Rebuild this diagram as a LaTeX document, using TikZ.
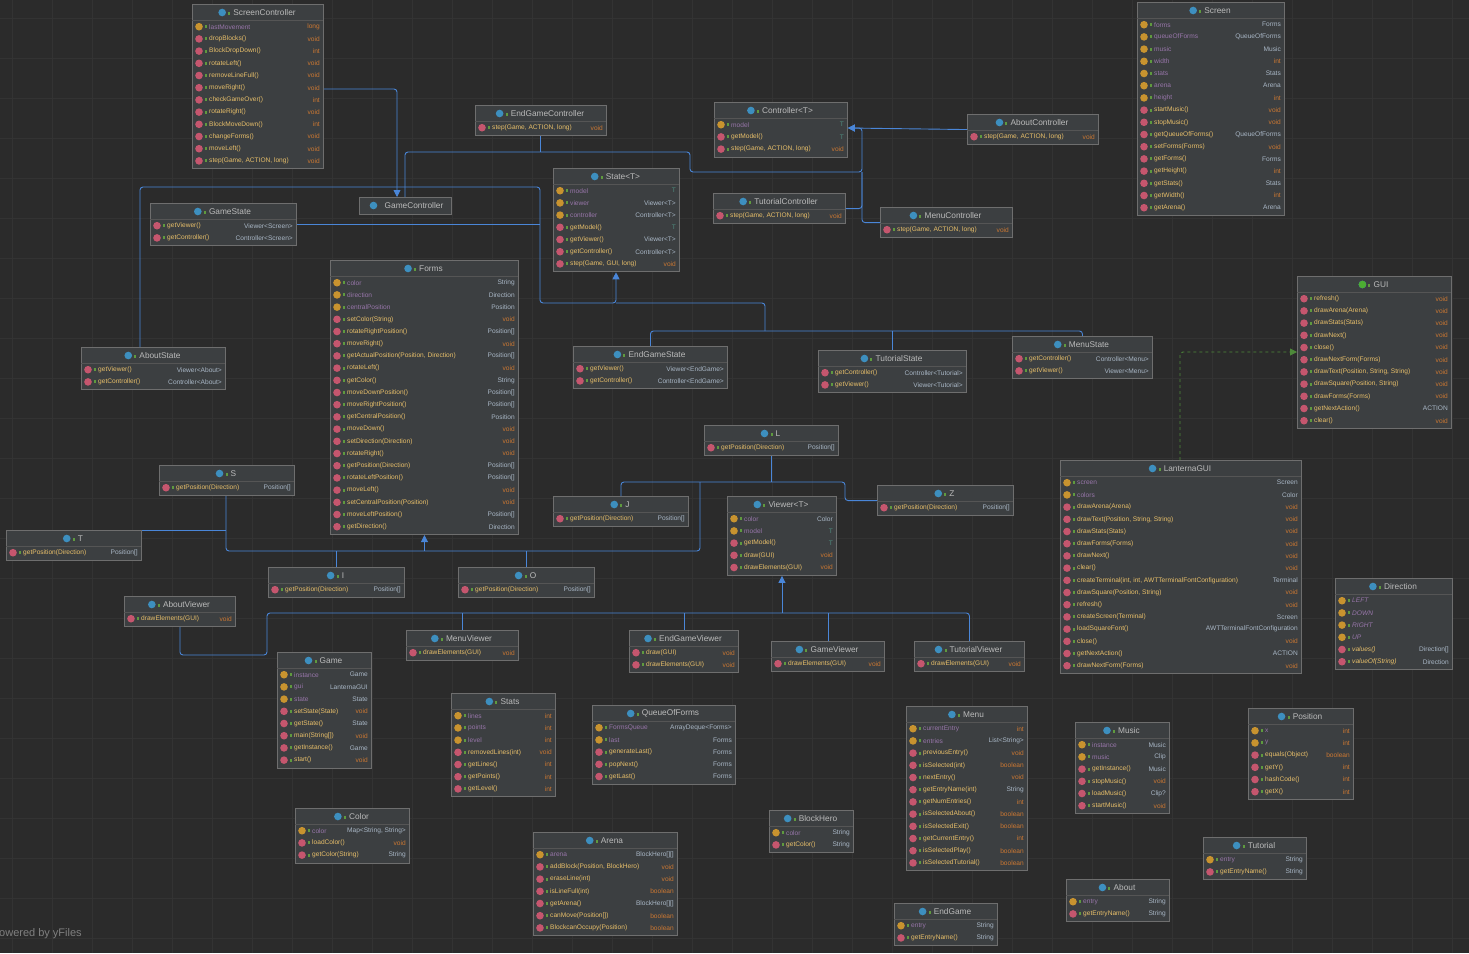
\documentclass[tikz,border=0pt]{standalone}
\usepackage{fontspec}
\setmainfont{Liberation Sans}
\usetikzlibrary{arrows.meta,calc}
\definecolor{bg}{HTML}{2B2B2B}
\definecolor{gridc}{HTML}{333333}
\definecolor{boxf}{HTML}{3C3F41}
\definecolor{boxd}{HTML}{6E6E6E}
\definecolor{sepc}{HTML}{555555}
\definecolor{titc}{HTML}{BBBBBB}
\definecolor{clsic}{HTML}{3D8FBF}
\definecolor{iconf}{HTML}{C8932F}
\definecolor{iconm}{HTML}{C5566E}
\definecolor{icona}{HTML}{C5566E}
\definecolor{namef}{HTML}{9876AA}
\definecolor{namem}{HTML}{E8BF6A}
\definecolor{namea}{HTML}{E8BF6A}
\definecolor{typec}{HTML}{A9B7C6}
\definecolor{kwc}{HTML}{CC7832}
\definecolor{tealc}{HTML}{4F8B7E}
\definecolor{visc}{HTML}{5F9A3F}
\definecolor{linec}{HTML}{4A86D8}
\definecolor{dashc}{HTML}{4E8A3A}
\newcommand\kv{\textcolor{kwc}{void}}
\newcommand\ki{\textcolor{kwc}{int}}
\newcommand\kb{\textcolor{kwc}{boolean}}
\newcommand\kl{\textcolor{kwc}{long}}
\newcommand\kT{\textcolor{tealc}{T}}
\tikzset{
  box/.style={draw=boxd,fill=boxf,line width=0.9pt,inner sep=0pt,rectangle},
  ttl/.style={text=titc,font=\fontsize{8.3}{10}\selectfont,inner sep=0pt},
  rowname/.style={anchor=west,inner sep=0pt,font=\fontsize{6.6}{8}\selectfont},
  rowtype/.style={anchor=east,inner sep=0pt,text=typec,font=\fontsize{6.6}{8}\selectfont},
  ln/.style={draw=linec,line width=0.9pt,rounded corners=3pt},
  inh/.style={ln,-{Triangle[width=7pt,length=7pt]}},
}
\newcommand\cls[6]{%
  \foreach \dd [count=\ii] in {#6} {\xdef\nr{\ii}}%
  \pgfmathsetmacro\hh{16+\nr*12.2+2}%
  \node[box,minimum width={(#4-#2)*1pt},minimum height={\hh*1pt},anchor=north west] (#1) at (#2,#3) {};
  \draw[sepc,line width=0.7pt] (#2,#3+16) -- (#4,#3+16);
  \node[ttl] (#1-t) at ({(#2+#4)/2+7},#3+8.5) {#5};
  \fill[clsic] ($(#1-t.west)+(-11,0)$) circle (3.8);
  \fill[visc] ($(#1-t.west)+(-5,-1)$) rectangle +(2,3);
  \foreach \rk/\rn/\rt [count=\ii] in {#6} {%
    \pgfmathsetmacro\yy{#3+16+(\ii-0.45)*12.2}
    \fill[icon\rk] (#2+7,\yy) circle (3.8);
    \fill[visc] (#2+12.5,\yy-1.5) rectangle +(2,3);
    \node[rowname,text=name\rk] at (#2+17,\yy) {\rn};
    \node[rowtype] at (#4-3,\yy) {\rt};
  }%
}
\begin{document}
\begin{tikzpicture}[x=1pt,y=-1pt]
\useasboundingbox (0,0) rectangle (1469,953);
\fill[bg] (0,0) rectangle (1469,953);
\foreach \gx in {0,40,...,1460} \draw[gridc,line width=0.6pt] (\gx+12,0) -- (\gx+12,953);
\foreach \gy in {0,40,...,950} \draw[gridc,line width=0.6pt] (0,\gy+18) -- (1469,\gy+18);

\cls{SC}{192}{4}{323}{ScreenController}{f/lastMovement/\kl, m/dropBlocks()/\kv, m/BlockDropDown()/\ki, m/rotateLeft()/\kv, m/removeLineFull()/\kv, m/moveRight()/\kv, m/checkGameOver()/\ki, m/rotateRight()/\kv, m/BlockMoveDown()/\ki, m/changeForms()/\kv, m/moveLeft()/\kv, m/{step(Game, ACTION, long)}/\kv}
\cls{EGC}{475}{105}{606}{EndGameController}{m/{step(Game, ACTION, long)}/\kv}
\cls{Ctrl}{714}{102}{847}{Controller<T>}{f/model/\kT, m/getModel()/\kT, m/{step(Game, ACTION, long)}/\kv}
\cls{AC}{967}{114}{1098}{AboutController}{m/{step(Game, ACTION, long)}/\kv}
\cls{Scr}{1137}{2}{1284}{Screen}{f/forms/Forms, f/queueOfForms/QueueOfForms, f/music/Music, f/width/\ki, f/stats/Stats, f/arena/Arena, f/height/\ki, m/startMusic()/\kv, m/stopMusic()/\kv, m/getQueueOfForms()/QueueOfForms, m/setForms(Forms)/\kv, m/getForms()/Forms, m/getHeight()/\ki, m/getStats()/Stats, m/getWidth()/\ki, m/getArena()/Arena}
\node[box,minimum width=92pt,minimum height=17pt,anchor=north west] (GC) at (359,197) {};
\node[ttl] (GC-t) at (414,205.5) {GameController};
\fill[clsic] ($(GC-t.west)+(-11,0)$) circle (3.8);
\cls{State}{553}{168}{679}{State<T>}{f/model/\kT, f/viewer/Viewer<T>, f/controller/Controller<T>, m/getModel()/\kT, m/getViewer()/Viewer<T>, m/getController()/Controller<T>, m/{step(Game, GUI, long)}/\kv}
\cls{TC}{713}{193}{845}{TutorialController}{m/{step(Game, ACTION, long)}/\kv}
\cls{MC}{880}{207}{1012}{MenuController}{m/{step(Game, ACTION, long)}/\kv}
\cls{GS}{150}{203}{296}{GameState}{m/getViewer()/Viewer<Screen>, m/getController()/Controller<Screen>}
\cls{Forms}{330}{260}{518}{Forms}{f/color/String, f/direction/Direction, f/centralPosition/Position, m/setColor(String)/\kv, m/rotateRightPosition()/Position[], m/moveRight()/\kv, m/{getActualPosition(Position, Direction)}/Position[], m/rotateLeft()/\kv, m/getColor()/String, m/moveDownPosition()/Position[], m/moveRightPosition()/Position[], m/getCentralPosition()/Position, m/moveDown()/\kv, m/setDirection(Direction)/\kv, m/rotateRight()/\kv, m/getPosition(Direction)/Position[], m/rotateLeftPosition()/Position[], m/moveLeft()/\kv, m/setCentralPosition(Position)/\kv, m/moveLeftPosition()/Position[], m/getDirection()/Direction}
\cls{GUI}{1297}{276}{1451}{GUI}{a/refresh()/\kv, a/drawArena(Arena)/\kv, a/drawStats(Stats)/\kv, a/drawNext()/\kv, a/close()/\kv, a/drawNextForm(Forms)/\kv, a/{drawText(Position, String, String)}/\kv, a/{drawSquare(Position, String)}/\kv, a/drawForms(Forms)/\kv, a/getNextAction()/ACTION, a/clear()/\kv}
\fill[visc!80!green] ($(GUI-t.west)+(-11,0)$) circle (3.8);
\cls{AS}{81}{347}{225}{AboutState}{m/getViewer()/Viewer<About>, m/getController()/Controller<About>}
\cls{EGS}{573}{346}{727}{EndGameState}{m/getViewer()/Viewer<EndGame>, m/getController()/Controller<EndGame>}
\cls{TS}{818}{350}{966}{TutorialState}{m/getController()/Controller<Tutorial>, m/getViewer()/Viewer<Tutorial>}
\cls{MS}{1012}{336}{1152}{MenuState}{m/getController()/Controller<Menu>, m/getViewer()/Viewer<Menu>}
\cls{L}{704}{425}{838}{L}{m/getPosition(Direction)/Position[]}
\cls{S}{159}{465}{294}{S}{m/getPosition(Direction)/Position[]}
\cls{J}{553}{496}{688}{J}{m/getPosition(Direction)/Position[]}
\cls{Z}{877}{485}{1013}{Z}{m/getPosition(Direction)/Position[]}
\cls{V}{727}{496}{836}{Viewer<T>}{f/color/Color, f/model/\kT, m/getModel()/\kT, m/draw(GUI)/\kv, a/drawElements(GUI)/\kv}
\cls{T}{6}{530}{141}{T}{m/getPosition(Direction)/Position[]}
\cls{I}{268}{567}{404}{I}{m/getPosition(Direction)/Position[]}
\cls{O}{458}{567}{594}{O}{m/getPosition(Direction)/Position[]}
\cls{LG}{1060}{460}{1301}{LanternaGUI}{f/screen/Screen, f/colors/Color, m/drawArena(Arena)/\kv, m/{drawText(Position, String, String)}/\kv, m/drawStats(Stats)/\kv, m/drawForms(Forms)/\kv, m/drawNext()/\kv, m/clear()/\kv, m/{createTerminal(int, int, AWTTerminalFontConfiguration)}/Terminal, m/{drawSquare(Position, String)}/\kv, m/refresh()/\kv, m/createScreen(Terminal)/Screen, m/loadSquareFont()/AWTTerminalFontConfiguration, m/close()/\kv, m/getNextAction()/ACTION, m/drawNextForm(Forms)/\kv}
\cls{Dir}{1335}{578}{1452}{Direction}{f/\textit{LEFT}/, f/\textit{DOWN}/, f/\textit{RIGHT}/, f/\textit{UP}/, m/\textit{values()}/Direction[], m/\textit{valueOf(String)}/Direction}
\cls{AV}{124}{596}{235}{AboutViewer}{m/drawElements(GUI)/\kv}
\cls{MV}{406}{630}{518}{MenuViewer}{m/drawElements(GUI)/\kv}
\cls{EGV}{629}{630}{738}{EndGameViewer}{m/draw(GUI)/\kv, m/drawElements(GUI)/\kv}
\cls{GV}{771}{641}{884}{GameViewer}{m/drawElements(GUI)/\kv}
\cls{TV}{914}{641}{1024}{TutorialViewer}{m/drawElements(GUI)/\kv}
\cls{Game}{277}{652}{371}{Game}{f/instance/Game, f/gui/LanternaGUI, f/state/State, m/setState(State)/\kv, m/getState()/State, m/main(String[])/\kv, m/getInstance()/Game, m/start()/\kv}
\cls{Stats}{451}{693}{555}{Stats}{f/lines/\ki, f/points/\ki, f/level/\ki, m/removedLines(int)/\kv, m/getLines()/\ki, m/getPoints()/\ki, m/getLevel()/\ki}
\cls{QF}{592}{705}{735}{QueueOfForms}{f/FormsQueue/ArrayDeque<Forms>, f/last/Forms, m/generateLast()/Forms, m/popNext()/Forms, m/getLast()/Forms}
\cls{Menu}{906}{706}{1027}{Menu}{f/currentEntry/\ki, f/entries/List<String>, m/previousEntry()/\kv, m/isSelected(int)/\kb, m/nextEntry()/\kv, m/getEntryName(int)/String, m/getNumEntries()/\ki, m/isSelectedAbout()/\kb, m/isSelectedExit()/\kb, m/getCurrentEntry()/\ki, m/isSelectedPlay()/\kb, m/isSelectedTutorial()/\kb}
\cls{Music}{1075}{722}{1169}{Music}{f/instance/Music, f/music/Clip, m/getInstance()/Music, m/stopMusic()/\kv, m/loadMusic()/Clip?, m/startMusic()/\kv}
\cls{Pos}{1248}{708}{1353}{Position}{f/x/\ki, f/y/\ki, m/equals(Object)/\kb, m/getY()/\ki, m/hashCode()/\ki, m/getX()/\ki}
\cls{Col}{295}{808}{409}{Color}{f/color/{Map<String, String>}, m/loadColor()/\kv, m/getColor(String)/String}
\cls{Ar}{533}{832}{677}{Arena}{f/arena/BlockHero[][], m/{addBlock(Position, BlockHero)}/\kv, m/eraseLine(int)/\kv, m/isLineFull(int)/\kb, m/getArena()/BlockHero[][], m/canMove(Position[])/\kb, m/BlockcanOccupy(Position)/\kb}
\cls{BH}{769}{810}{853}{BlockHero}{f/color/String, m/getColor()/String}
\cls{Tut}{1203}{837}{1306}{Tutorial}{f/entry/String, m/getEntryName()/String}
\cls{Ab}{1066}{879}{1169}{About}{f/entry/String, m/getEntryName()/String}
\cls{EG}{894}{903}{997}{EndGame}{f/entry/String, m/getEntryName()/String}

% controllers
\draw[inh] ($(SC.north east)+(0,85)$) -- (397,89) -- (397,0 |- GC.north);
\draw[inh] (405,0 |- GC.north) -- (405,152) -- (690,152) -- (690,172) -- (862,172) -- (862,128) -- (Ctrl.east |- 0,128);
\draw[ln] (540,0 |- EGC.south) -- (540,152);
\draw[inh] (AC.west) -- (Ctrl.east |- 0,128);
\draw[ln] (TC.east) -| (862,172);
\draw[ln] (MC.west) -| (862,172);
% states
\draw[inh] (140,0 |- AS.north) -- (140,187) -- (540,187) -- (540,303) -- (616,303) -- (616,0 |- State.south);
\draw[ln] (GS.east) -- (540,0 |- GS.east);
\draw[ln] (616,303) -- (765,303) -- (765,331);
\draw[ln] (EGS.north) |- (MS.north |- 0,331) -- (MS.north);
\draw[ln] (TS.north) -- (TS.north |- 0,331);
% forms
\draw[ln] (T.north east) -- (226,0 |- T.north east);
\draw[ln] (226,0 |- S.south) -- (226,551) -- (700,551) -- (700,482);
\draw[inh] (Forms.south |- 0,551) -- (Forms.south);
\draw[ln] (I.north) -- (I.north |- 0,551);
\draw[ln] (O.north) -- (O.north |- 0,551);
\draw[ln] (J.north) -- (J.north |- 0,482) -- (845,482) |- (Z.west);
\draw[ln] (L.south) -- (L.south |- 0,482);
% viewers
\draw[ln] (AV.south) -- (AV.south |- 0,655) -- (267,655) -- (267,613) -- (TV.north |- 0,613) -- (TV.north);
\draw[ln] (MV.north) -- (MV.north |- 0,613);
\draw[ln] (EGV.north) -- (EGV.north |- 0,613);
\draw[ln] (GV.north) -- (GV.north |- 0,613);
\draw[inh] (V.south |- 0,613) -- (V.south);
% gui
\draw[dashc,line width=0.9pt,dashed,rounded corners=3pt,-{Triangle[width=7pt,length=7pt]}] (1180,0 |- LG.north) -- (1180,352) -- (GUI.west |- 0,352);

\node[anchor=west,text=gray,font=\fontsize{11}{12}\selectfont,inner sep=0pt] (yf) at (-1,934) {owered by yFiles};
\end{tikzpicture}
\end{document}
